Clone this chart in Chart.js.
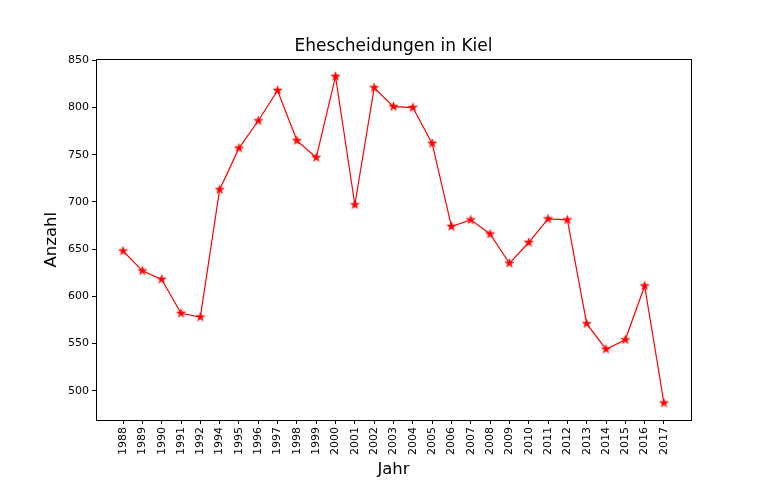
<!DOCTYPE html>
<html>
<head>
<meta charset="utf-8">
<script src="https://cdn.jsdelivr.net/npm/chart.js@4/dist/chart.umd.min.js"></script>
<style>
html,body{margin:0;padding:0;background:#fff;}
canvas{display:block;}
</style>
</head>
<body>
<canvas id="c" width="768" height="487"></canvas>
<script>
const years = ['1988','1989','1990','1991','1992','1994','1995','1996','1997','1998','1999','2000','2001','2002','2003','2004','2005','2006','2007','2008','2009','2010','2011','2012','2013','2014','2015','2016','2017'];
const divorces = [648,627,618,582,578,713,757,786,818,765,747,833,697,821,801,800,762,674,681,666,635,657,682,681,571,544,554,611,487];
const yTicks = [500,550,600,650,700,750,800,850];
const yMin = 469, yMax = 851;

const FONT = "'DejaVu Sans', sans-serif";

// star marker
const star = document.createElement('canvas');
star.width = 11; star.height = 11;
(function(){
  const g = star.getContext('2d');
  const cx = 5.5, cy = 5.5, R = 4.7, r = R * 0.382;
  g.beginPath();
  for (let i = 0; i < 10; i++) {
    const a = -Math.PI/2 + i * Math.PI/5;
    const rr = i % 2 === 0 ? R : r;
    const x = cx + rr * Math.cos(a), y = cy + rr * Math.sin(a);
    if (i === 0) g.moveTo(x, y); else g.lineTo(x, y);
  }
  g.closePath();
  g.fillStyle = '#ff0000';
  g.fill();
  g.strokeStyle = '#ff0000';
  g.lineWidth = 0.6;
  g.stroke();
})();

const frame = {
  id: 'frame',
  afterDraw(chart) {
    const {ctx, chartArea: a} = chart;
    ctx.save();
    ctx.strokeStyle = '#000';
    ctx.lineWidth = 1;
    ctx.strokeRect(Math.round(a.left) + 0.5, Math.round(a.top) + 0.5, Math.round(a.right - a.left), Math.round(a.bottom - a.top));
    ctx.restore();
  }
};

const pts = divorces.map((v, i) => ({x: i, y: v}));

new Chart(document.getElementById('c'), {
  type: 'line',
  data: {
    datasets: [{
      data: pts,
      borderColor: '#ff0000',
      backgroundColor: '#ff0000',
      borderWidth: 1.2,
      pointStyle: star,
      pointRadius: 5,
      tension: 0,
      fill: false
    }]
  },
  options: {
    responsive: false,
    animation: false,
    devicePixelRatio: 1,
    layout: { padding: { left: 19, right: 0, top: 0, bottom: 0 } },
    plugins: {
      legend: { display: false },
      tooltip: { enabled: false },
      title: {
        display: true,
        text: 'Ehescheidungen in Kiel',
        color: '#000',
        font: { family: FONT, size: 17, weight: 'normal', lineHeight: 1.2 },
        padding: { top: 36, bottom: 3 }
      }
    },
    scales: {
      x: {
        type: 'linear',
        min: -1.4,
        max: years.length - 1 + 1.4,
        afterBuildTicks(scale) { scale.ticks = years.map((y, i) => ({value: i})); },
        afterFit(scale) { scale.height = 67; },
        ticks: {
          autoSkip: false,
          minRotation: 90,
          maxRotation: 90,
          padding: 3,
          color: '#000',
          font: { family: FONT, size: 11 },
          callback: (v) => years[v]
        },
        grid: { drawOnChartArea: false, drawTicks: true, tickLength: 4, color: '#000' },
        border: { color: '#000', width: 1 },
        title: {
          display: true,
          text: 'Jahr',
          color: '#000',
          font: { family: FONT, size: 16.5, lineHeight: 1.2 },
          padding: { top: 0, bottom: 7 }
        }
      },
      y: {
        type: 'linear',
        position: 'left',
        min: yMin,
        max: yMax,
        afterBuildTicks(scale) { scale.ticks = yTicks.map(v => ({value: v})); },
        afterFit(scale) { scale.width = 77; },
        ticks: {
          padding: 3,
          color: '#000',
          font: { family: FONT, size: 11 }
        },
        grid: { drawOnChartArea: false, drawTicks: true, tickLength: 4, color: '#000' },
        border: { color: '#000', width: 1 },
        title: {
          display: true,
          text: 'Anzahl',
          color: '#000',
          font: { family: FONT, size: 16.5, lineHeight: 1.2 },
          padding: { top: 23, bottom: 0 }
        }
      },
      yRight: {
        type: 'linear',
        position: 'right',
        min: 0,
        max: 1,
        afterFit(scale) { scale.width = 77; },
        ticks: { display: false },
        grid: { display: false, drawTicks: false },
        border: { display: false },
        title: { display: false }
      }
    }
  },
  plugins: [frame]
});
</script>
</body>
</html>
